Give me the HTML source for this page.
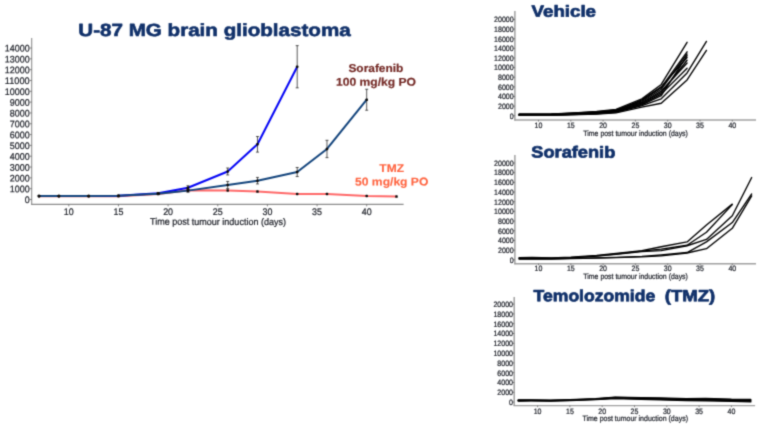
<!DOCTYPE html>
<html><head><meta charset="utf-8"><title>U-87 MG brain glioblastoma</title>
<style>
html,body{margin:0;padding:0;background:#fff;}
body{width:768px;height:424px;overflow:hidden;font-family:"Liberation Sans",sans-serif;}
svg{display:block;}
text{font-family:"Liberation Sans",sans-serif;}
.ax{stroke:#8c8c8c;stroke-width:1.05;fill:none;}
.ay{stroke:#888;stroke-width:1.05;fill:none;}
.ax2{stroke:#a0a0a0;stroke-width:1.4;fill:none;}
.ay2{stroke:#9a9a9a;stroke-width:1.4;fill:none;}
.tk{stroke:#666;stroke-width:0.8;fill:none;}
.lb{fill:#191c24;stroke:#191c24;stroke-width:0.22;}
.ttl{fill:#11316a;font-weight:bold;stroke:#11316a;stroke-linejoin:round;}
.ln{fill:none;stroke:#000;stroke-width:1.35;stroke-linejoin:round;stroke-linecap:round;}
.eb{stroke:#222;stroke-width:0.75;fill:none;}
</style></head><body>
<svg width="768" height="424" viewBox="0 0 768 424">
<defs><filter id="bl" filterUnits="userSpaceOnUse" x="0" y="0" width="768" height="424" color-interpolation-filters="sRGB"><feConvolveMatrix order="3" kernelMatrix="1 4 1 4 16 4 1 4 1" divisor="36" edgeMode="duplicate" preserveAlpha="false"/></filter></defs>
<rect width="768" height="424" fill="#fff"/>
<g filter="url(#bl)">
<g id="main">
<path class="ax" d="M31.1 204.35 H403.6"/>
<path class="ay" d="M31.7 38 V204.85"/>
<path class="tk" d="M31.7 199.5 h-2"/><text class="lb" x="24.64" y="203.1" font-size="9.5" textLength="4.96" lengthAdjust="spacingAndGlyphs" transform="rotate(0.03 24.64 203.1)">0</text>
<path class="tk" d="M31.7 188.68 h-2"/><text class="lb" x="9.76" y="192.28" font-size="9.5" textLength="19.84" lengthAdjust="spacingAndGlyphs" transform="rotate(0.03 9.76 192.28)">1000</text>
<path class="tk" d="M31.7 177.86 h-2"/><text class="lb" x="9.76" y="181.46" font-size="9.5" textLength="19.84" lengthAdjust="spacingAndGlyphs" transform="rotate(0.03 9.76 181.46)">2000</text>
<path class="tk" d="M31.7 167.04 h-2"/><text class="lb" x="9.76" y="170.64" font-size="9.5" textLength="19.84" lengthAdjust="spacingAndGlyphs" transform="rotate(0.03 9.76 170.64)">3000</text>
<path class="tk" d="M31.7 156.22 h-2"/><text class="lb" x="9.76" y="159.82" font-size="9.5" textLength="19.84" lengthAdjust="spacingAndGlyphs" transform="rotate(0.03 9.76 159.82)">4000</text>
<path class="tk" d="M31.7 145.4 h-2"/><text class="lb" x="9.76" y="149" font-size="9.5" textLength="19.84" lengthAdjust="spacingAndGlyphs" transform="rotate(0.03 9.76 149)">5000</text>
<path class="tk" d="M31.7 134.58 h-2"/><text class="lb" x="9.76" y="138.18" font-size="9.5" textLength="19.84" lengthAdjust="spacingAndGlyphs" transform="rotate(0.03 9.76 138.18)">6000</text>
<path class="tk" d="M31.7 123.76 h-2"/><text class="lb" x="9.76" y="127.36" font-size="9.5" textLength="19.84" lengthAdjust="spacingAndGlyphs" transform="rotate(0.03 9.76 127.36)">7000</text>
<path class="tk" d="M31.7 112.94 h-2"/><text class="lb" x="9.76" y="116.54" font-size="9.5" textLength="19.84" lengthAdjust="spacingAndGlyphs" transform="rotate(0.03 9.76 116.54)">8000</text>
<path class="tk" d="M31.7 102.12 h-2"/><text class="lb" x="9.76" y="105.72" font-size="9.5" textLength="19.84" lengthAdjust="spacingAndGlyphs" transform="rotate(0.03 9.76 105.72)">9000</text>
<path class="tk" d="M31.7 91.3 h-2"/><text class="lb" x="4.8" y="94.9" font-size="9.5" textLength="24.8" lengthAdjust="spacingAndGlyphs" transform="rotate(0.03 4.8 94.9)">10000</text>
<path class="tk" d="M31.7 80.48 h-2"/><text class="lb" x="4.8" y="84.08" font-size="9.5" textLength="24.8" lengthAdjust="spacingAndGlyphs" transform="rotate(0.03 4.8 84.08)">11000</text>
<path class="tk" d="M31.7 69.66 h-2"/><text class="lb" x="4.8" y="73.26" font-size="9.5" textLength="24.8" lengthAdjust="spacingAndGlyphs" transform="rotate(0.03 4.8 73.26)">12000</text>
<path class="tk" d="M31.7 58.84 h-2"/><text class="lb" x="4.8" y="62.44" font-size="9.5" textLength="24.8" lengthAdjust="spacingAndGlyphs" transform="rotate(0.03 4.8 62.44)">13000</text>
<path class="tk" d="M31.7 48.02 h-2"/><text class="lb" x="4.8" y="51.62" font-size="9.5" textLength="24.8" lengthAdjust="spacingAndGlyphs" transform="rotate(0.03 4.8 51.62)">14000</text>
<path class="tk" d="M68.8 204.35 v2"/><text class="lb" x="63.85" y="215.1" font-size="9.5" textLength="9.9" lengthAdjust="spacingAndGlyphs" transform="rotate(0.03 63.85 215.1)">10</text>
<path class="tk" d="M118.45 204.35 v2"/><text class="lb" x="113.5" y="215.1" font-size="9.5" textLength="9.9" lengthAdjust="spacingAndGlyphs" transform="rotate(0.03 113.5 215.1)">15</text>
<path class="tk" d="M168.1 204.35 v2"/><text class="lb" x="163.15" y="215.1" font-size="9.5" textLength="9.9" lengthAdjust="spacingAndGlyphs" transform="rotate(0.03 163.15 215.1)">20</text>
<path class="tk" d="M217.75 204.35 v2"/><text class="lb" x="212.8" y="215.1" font-size="9.5" textLength="9.9" lengthAdjust="spacingAndGlyphs" transform="rotate(0.03 212.8 215.1)">25</text>
<path class="tk" d="M267.4 204.35 v2"/><text class="lb" x="262.45" y="215.1" font-size="9.5" textLength="9.9" lengthAdjust="spacingAndGlyphs" transform="rotate(0.03 262.45 215.1)">30</text>
<path class="tk" d="M317.05 204.35 v2"/><text class="lb" x="312.1" y="215.1" font-size="9.5" textLength="9.9" lengthAdjust="spacingAndGlyphs" transform="rotate(0.03 312.1 215.1)">35</text>
<path class="tk" d="M366.7 204.35 v2"/><text class="lb" x="361.75" y="215.1" font-size="9.5" textLength="9.9" lengthAdjust="spacingAndGlyphs" transform="rotate(0.03 361.75 215.1)">40</text>
<text class="lb" x="218" y="224.9" font-size="9.5" text-anchor="middle" textLength="136" lengthAdjust="spacingAndGlyphs" transform="rotate(0.03 218 224.9)">Time post tumour induction (days)</text>
<text class="ttl" x="78.3" y="35.9" font-size="17.6" stroke-width="0.6" textLength="272.4" lengthAdjust="spacingAndGlyphs" transform="rotate(0.03 78.3 35.9)">U-87 MG brain glioblastoma</text>
<polyline points="39.01,196.31 58.87,196.31 88.66,196.31 118.45,196.15 158.17,194.09 187.96,190.19 227.68,190.52 257.47,191.6 297.19,193.98 326.98,193.98 366.7,196.04 396.49,196.58" fill="none" stroke="#ff6868" stroke-width="2.0" stroke-linejoin="round"/>
<polyline points="39.01,195.93 58.87,195.93 88.66,195.93 118.45,195.77 158.17,193.33 187.96,187.71 227.68,171.48 257.47,144.32 297.19,66.74" fill="none" stroke="#0505f5" stroke-width="2.0" stroke-linejoin="round"/>
<polyline points="39.01,195.93 58.87,195.93 88.66,195.93 118.45,195.77 158.17,193.66 187.96,190.63 227.68,185 257.47,180.67 297.19,172.02 326.98,148.97 366.7,99.74" fill="none" stroke="#13447c" stroke-width="2.0" stroke-linejoin="round"/>
<rect x="37.76" y="194.68" width="2.5" height="2.5" rx="0.7" fill="#0a0a0a"/>
<rect x="57.62" y="194.68" width="2.5" height="2.5" rx="0.7" fill="#0a0a0a"/>
<rect x="87.41" y="194.68" width="2.5" height="2.5" rx="0.7" fill="#0a0a0a"/>
<rect x="117.2" y="194.52" width="2.5" height="2.5" rx="0.7" fill="#0a0a0a"/>
<path class="eb" d="M158.17 192.47 V194.2 M156.67 192.47 h3 M156.67 194.2 h3"/><rect x="156.92" y="192.08" width="2.5" height="2.5" rx="0.7" fill="#0a0a0a"/>
<path class="eb" d="M187.96 185.76 V189.65 M186.46 185.76 h3 M186.46 189.65 h3"/><rect x="186.71" y="186.46" width="2.5" height="2.5" rx="0.7" fill="#0a0a0a"/>
<path class="eb" d="M227.68 168.01 V174.94 M226.18 168.01 h3 M226.18 174.94 h3"/><rect x="226.43" y="170.23" width="2.5" height="2.5" rx="0.7" fill="#0a0a0a"/>
<path class="eb" d="M257.47 136.53 V152.11 M255.97 136.53 h3 M255.97 152.11 h3"/><rect x="256.22" y="143.07" width="2.5" height="2.5" rx="0.7" fill="#0a0a0a"/>
<path class="eb" d="M297.19 45.64 V87.84 M295.69 45.64 h3 M295.69 87.84 h3"/><rect x="295.94" y="65.49" width="2.5" height="2.5" rx="0.7" fill="#0a0a0a"/>
<rect x="37.76" y="194.68" width="2.5" height="2.5" rx="0.7" fill="#0a0a0a"/>
<rect x="57.62" y="194.68" width="2.5" height="2.5" rx="0.7" fill="#0a0a0a"/>
<rect x="87.41" y="194.68" width="2.5" height="2.5" rx="0.7" fill="#0a0a0a"/>
<rect x="117.2" y="194.52" width="2.5" height="2.5" rx="0.7" fill="#0a0a0a"/>
<path class="eb" d="M158.17 192.79 V194.52 M156.67 192.79 h3 M156.67 194.52 h3"/><rect x="156.92" y="192.41" width="2.5" height="2.5" rx="0.7" fill="#0a0a0a"/>
<path class="eb" d="M187.96 189 V192.25 M186.46 189 h3 M186.46 192.25 h3"/><rect x="186.71" y="189.38" width="2.5" height="2.5" rx="0.7" fill="#0a0a0a"/>
<path class="eb" d="M227.68 181.43 V188.57 M226.18 181.43 h3 M226.18 188.57 h3"/><rect x="226.43" y="183.75" width="2.5" height="2.5" rx="0.7" fill="#0a0a0a"/>
<path class="eb" d="M257.47 177.43 V183.92 M255.97 177.43 h3 M255.97 183.92 h3"/><rect x="256.22" y="179.42" width="2.5" height="2.5" rx="0.7" fill="#0a0a0a"/>
<path class="eb" d="M297.19 167.47 V176.56 M295.69 167.47 h3 M295.69 176.56 h3"/><rect x="295.94" y="170.77" width="2.5" height="2.5" rx="0.7" fill="#0a0a0a"/>
<path class="eb" d="M326.98 140.31 V157.63 M325.48 140.31 h3 M325.48 157.63 h3"/><rect x="325.73" y="147.72" width="2.5" height="2.5" rx="0.7" fill="#0a0a0a"/>
<path class="eb" d="M366.7 89.24 V110.23 M365.2 89.24 h3 M365.2 110.23 h3"/><rect x="365.45" y="98.49" width="2.5" height="2.5" rx="0.7" fill="#0a0a0a"/>
<rect x="37.76" y="195.06" width="2.5" height="2.5" rx="0.7" fill="#0a0a0a"/>
<rect x="57.62" y="195.06" width="2.5" height="2.5" rx="0.7" fill="#0a0a0a"/>
<rect x="87.41" y="195.06" width="2.5" height="2.5" rx="0.7" fill="#0a0a0a"/>
<rect x="117.2" y="194.9" width="2.5" height="2.5" rx="0.7" fill="#0a0a0a"/>
<rect x="156.92" y="192.84" width="2.5" height="2.5" rx="0.7" fill="#0a0a0a"/>
<rect x="186.71" y="188.94" width="2.5" height="2.5" rx="0.7" fill="#0a0a0a"/>
<rect x="226.43" y="189.27" width="2.5" height="2.5" rx="0.7" fill="#0a0a0a"/>
<rect x="256.22" y="190.35" width="2.5" height="2.5" rx="0.7" fill="#0a0a0a"/>
<rect x="295.94" y="192.73" width="2.5" height="2.5" rx="0.7" fill="#0a0a0a"/>
<rect x="325.73" y="192.73" width="2.5" height="2.5" rx="0.7" fill="#0a0a0a"/>
<rect x="365.45" y="194.79" width="2.5" height="2.5" rx="0.7" fill="#0a0a0a"/>
<rect x="395.24" y="195.33" width="2.5" height="2.5" rx="0.7" fill="#0a0a0a"/>
<g font-weight="bold" font-size="11.3" text-anchor="middle">
<text x="375.9" y="72.0" fill="#742a26" stroke="#742a26" stroke-width="0.2" textLength="55" lengthAdjust="spacingAndGlyphs" transform="rotate(0.03 375.9 72.0)">Sorafenib</text>
<text x="376" y="85.8" fill="#742a26" stroke="#742a26" stroke-width="0.2" textLength="80" lengthAdjust="spacingAndGlyphs" transform="rotate(0.03 376 85.8)">100 mg/kg PO</text>
<text x="391.7" y="171.9" fill="#ff6440" stroke="#ff6440" stroke-width="0.12" textLength="24.7" lengthAdjust="spacingAndGlyphs" transform="rotate(0.03 391.7 171.9)">TMZ</text>
<text x="391.7" y="185.6" fill="#ff6440" stroke="#ff6440" stroke-width="0.12" textLength="73.3" lengthAdjust="spacingAndGlyphs" transform="rotate(0.03 391.7 185.6)">50 mg/kg PO</text>
</g>
</g>
<g>
<path class="ax2" d="M514.3 120 H756"/>
<path class="ay2" d="M514.9 10.9 V120.5"/>
<path class="tk" d="M514.9 115.75 h-1.8"/><text class="lb" x="509.78" y="118.55" font-size="7.8" textLength="3.92" lengthAdjust="spacingAndGlyphs" transform="rotate(0.03 509.78 118.55)">0</text>
<path class="tk" d="M514.9 106.12 h-1.8"/><text class="lb" x="498.02" y="108.92" font-size="7.8" textLength="15.68" lengthAdjust="spacingAndGlyphs" transform="rotate(0.03 498.02 108.92)">2000</text>
<path class="tk" d="M514.9 96.49 h-1.8"/><text class="lb" x="498.02" y="99.29" font-size="7.8" textLength="15.68" lengthAdjust="spacingAndGlyphs" transform="rotate(0.03 498.02 99.29)">4000</text>
<path class="tk" d="M514.9 86.86 h-1.8"/><text class="lb" x="498.02" y="89.66" font-size="7.8" textLength="15.68" lengthAdjust="spacingAndGlyphs" transform="rotate(0.03 498.02 89.66)">6000</text>
<path class="tk" d="M514.9 77.23 h-1.8"/><text class="lb" x="498.02" y="80.03" font-size="7.8" textLength="15.68" lengthAdjust="spacingAndGlyphs" transform="rotate(0.03 498.02 80.03)">8000</text>
<path class="tk" d="M514.9 67.6 h-1.8"/><text class="lb" x="494.1" y="70.4" font-size="7.8" textLength="19.6" lengthAdjust="spacingAndGlyphs" transform="rotate(0.03 494.1 70.4)">10000</text>
<path class="tk" d="M514.9 57.97 h-1.8"/><text class="lb" x="494.1" y="60.77" font-size="7.8" textLength="19.6" lengthAdjust="spacingAndGlyphs" transform="rotate(0.03 494.1 60.77)">12000</text>
<path class="tk" d="M514.9 48.34 h-1.8"/><text class="lb" x="494.1" y="51.14" font-size="7.8" textLength="19.6" lengthAdjust="spacingAndGlyphs" transform="rotate(0.03 494.1 51.14)">14000</text>
<path class="tk" d="M514.9 38.71 h-1.8"/><text class="lb" x="494.1" y="41.51" font-size="7.8" textLength="19.6" lengthAdjust="spacingAndGlyphs" transform="rotate(0.03 494.1 41.51)">16000</text>
<path class="tk" d="M514.9 29.08 h-1.8"/><text class="lb" x="494.1" y="31.88" font-size="7.8" textLength="19.6" lengthAdjust="spacingAndGlyphs" transform="rotate(0.03 494.1 31.88)">18000</text>
<path class="tk" d="M514.9 19.45 h-1.8"/><text class="lb" x="494.1" y="22.25" font-size="7.8" textLength="19.6" lengthAdjust="spacingAndGlyphs" transform="rotate(0.03 494.1 22.25)">20000</text>
<path class="tk" d="M538.5 120 v1.6"/><text class="lb" x="534.6" y="127.5" font-size="7.8" textLength="7.8" lengthAdjust="spacingAndGlyphs" transform="rotate(0.03 534.6 127.5)">10</text>
<path class="tk" d="M570.8 120 v1.6"/><text class="lb" x="566.9" y="127.5" font-size="7.8" textLength="7.8" lengthAdjust="spacingAndGlyphs" transform="rotate(0.03 566.9 127.5)">15</text>
<path class="tk" d="M603.1 120 v1.6"/><text class="lb" x="599.2" y="127.5" font-size="7.8" textLength="7.8" lengthAdjust="spacingAndGlyphs" transform="rotate(0.03 599.2 127.5)">20</text>
<path class="tk" d="M635.4 120 v1.6"/><text class="lb" x="631.5" y="127.5" font-size="7.8" textLength="7.8" lengthAdjust="spacingAndGlyphs" transform="rotate(0.03 631.5 127.5)">25</text>
<path class="tk" d="M667.7 120 v1.6"/><text class="lb" x="663.8" y="127.5" font-size="7.8" textLength="7.8" lengthAdjust="spacingAndGlyphs" transform="rotate(0.03 663.8 127.5)">30</text>
<path class="tk" d="M700 120 v1.6"/><text class="lb" x="696.1" y="127.5" font-size="7.8" textLength="7.8" lengthAdjust="spacingAndGlyphs" transform="rotate(0.03 696.1 127.5)">35</text>
<path class="tk" d="M732.3 120 v1.6"/><text class="lb" x="728.4" y="127.5" font-size="7.8" textLength="7.8" lengthAdjust="spacingAndGlyphs" transform="rotate(0.03 728.4 127.5)">40</text>
<text class="lb" x="583.3" y="135.8" font-size="7.8" textLength="104.6" lengthAdjust="spacingAndGlyphs" transform="rotate(0.03 583.3 135.8)">Time post tumour induction (days)</text>
<text class="ttl" x="531.6" y="16.8" font-size="16.2" stroke-width="0.7" textLength="64.4" lengthAdjust="spacingAndGlyphs" transform="rotate(0.03 531.6 16.8)">Vehicle</text>
<polyline class="ln" points="519.12,114.06 532.04,114.06 551.42,113.92 570.8,113.07 596.64,111.51 616.02,109.49 641.86,98.9 661.24,84.45 687.08,42.32"/>
<polyline class="ln" points="519.12,114.33 532.04,114.33 551.42,114.23 570.8,113.46 596.64,112.08 616.02,110.23 641.86,100.82 661.24,87.34 687.08,51.81"/>
<polyline class="ln" points="519.12,114.2 532.04,114.2 551.42,114.07 570.8,113.27 596.64,111.8 616.02,109.86 641.86,101.79 661.24,89.27 687.08,53.93"/>
<polyline class="ln" points="519.12,114.46 532.04,114.46 551.42,114.39 570.8,113.66 596.64,112.37 616.02,110.6 641.86,99.86 661.24,86.86 687.08,57.54"/>
<polyline class="ln" points="519.12,114.73 532.04,114.73 551.42,114.7 570.8,114.05 596.64,112.93 616.02,111.33 641.86,103.23 661.24,92.64 687.08,60.23"/>
<polyline class="ln" points="519.12,114.6 532.04,114.6 551.42,114.54 570.8,113.86 596.64,112.65 616.02,110.97 641.86,102.75 661.24,91.19 687.08,62.93"/>
<polyline class="ln" points="519.12,114.87 532.04,114.87 551.42,114.85 570.8,114.25 596.64,113.21 616.02,111.71 641.86,104.19 661.24,94.13 687.08,68.27"/>
<polyline class="ln" points="519.12,115.13 532.04,115.13 551.42,115.16 570.8,114.64 596.64,113.78 616.02,112.44 641.86,105.64 661.24,98.8 687.08,72.94 706.46,41.41"/>
<polyline class="ln" points="519.12,115.27 532.04,115.27 551.42,115.32 570.8,114.84 596.64,114.06 616.02,112.81 641.86,107.08 661.24,103.28 687.08,79.93 706.46,50.36"/>
<polyline class="ln" points="519.12,115 532.04,115 551.42,115.01 570.8,114.45 596.64,113.5 616.02,112.08 641.86,104.92 661.24,95.53 687.08,55.56"/>
</g>
<g>
<path class="ax2" d="M514.3 263.7 H756"/>
<path class="ay2" d="M514.9 155 V264.2"/>
<path class="tk" d="M514.9 259.8 h-1.8"/><text class="lb" x="509.78" y="262.6" font-size="7.8" textLength="3.92" lengthAdjust="spacingAndGlyphs" transform="rotate(0.03 509.78 262.6)">0</text>
<path class="tk" d="M514.9 250.12 h-1.8"/><text class="lb" x="498.02" y="252.92" font-size="7.8" textLength="15.68" lengthAdjust="spacingAndGlyphs" transform="rotate(0.03 498.02 252.92)">2000</text>
<path class="tk" d="M514.9 240.44 h-1.8"/><text class="lb" x="498.02" y="243.24" font-size="7.8" textLength="15.68" lengthAdjust="spacingAndGlyphs" transform="rotate(0.03 498.02 243.24)">4000</text>
<path class="tk" d="M514.9 230.76 h-1.8"/><text class="lb" x="498.02" y="233.56" font-size="7.8" textLength="15.68" lengthAdjust="spacingAndGlyphs" transform="rotate(0.03 498.02 233.56)">6000</text>
<path class="tk" d="M514.9 221.08 h-1.8"/><text class="lb" x="498.02" y="223.88" font-size="7.8" textLength="15.68" lengthAdjust="spacingAndGlyphs" transform="rotate(0.03 498.02 223.88)">8000</text>
<path class="tk" d="M514.9 211.4 h-1.8"/><text class="lb" x="494.1" y="214.2" font-size="7.8" textLength="19.6" lengthAdjust="spacingAndGlyphs" transform="rotate(0.03 494.1 214.2)">10000</text>
<path class="tk" d="M514.9 201.72 h-1.8"/><text class="lb" x="494.1" y="204.52" font-size="7.8" textLength="19.6" lengthAdjust="spacingAndGlyphs" transform="rotate(0.03 494.1 204.52)">12000</text>
<path class="tk" d="M514.9 192.04 h-1.8"/><text class="lb" x="494.1" y="194.84" font-size="7.8" textLength="19.6" lengthAdjust="spacingAndGlyphs" transform="rotate(0.03 494.1 194.84)">14000</text>
<path class="tk" d="M514.9 182.36 h-1.8"/><text class="lb" x="494.1" y="185.16" font-size="7.8" textLength="19.6" lengthAdjust="spacingAndGlyphs" transform="rotate(0.03 494.1 185.16)">16000</text>
<path class="tk" d="M514.9 172.68 h-1.8"/><text class="lb" x="494.1" y="175.48" font-size="7.8" textLength="19.6" lengthAdjust="spacingAndGlyphs" transform="rotate(0.03 494.1 175.48)">18000</text>
<path class="tk" d="M514.9 163 h-1.8"/><text class="lb" x="494.1" y="165.8" font-size="7.8" textLength="19.6" lengthAdjust="spacingAndGlyphs" transform="rotate(0.03 494.1 165.8)">20000</text>
<path class="tk" d="M538.5 263.7 v1.6"/><text class="lb" x="534.6" y="271.3" font-size="7.8" textLength="7.8" lengthAdjust="spacingAndGlyphs" transform="rotate(0.03 534.6 271.3)">10</text>
<path class="tk" d="M570.8 263.7 v1.6"/><text class="lb" x="566.9" y="271.3" font-size="7.8" textLength="7.8" lengthAdjust="spacingAndGlyphs" transform="rotate(0.03 566.9 271.3)">15</text>
<path class="tk" d="M603.1 263.7 v1.6"/><text class="lb" x="599.2" y="271.3" font-size="7.8" textLength="7.8" lengthAdjust="spacingAndGlyphs" transform="rotate(0.03 599.2 271.3)">20</text>
<path class="tk" d="M635.4 263.7 v1.6"/><text class="lb" x="631.5" y="271.3" font-size="7.8" textLength="7.8" lengthAdjust="spacingAndGlyphs" transform="rotate(0.03 631.5 271.3)">25</text>
<path class="tk" d="M667.7 263.7 v1.6"/><text class="lb" x="663.8" y="271.3" font-size="7.8" textLength="7.8" lengthAdjust="spacingAndGlyphs" transform="rotate(0.03 663.8 271.3)">30</text>
<path class="tk" d="M700 263.7 v1.6"/><text class="lb" x="696.1" y="271.3" font-size="7.8" textLength="7.8" lengthAdjust="spacingAndGlyphs" transform="rotate(0.03 696.1 271.3)">35</text>
<path class="tk" d="M732.3 263.7 v1.6"/><text class="lb" x="728.4" y="271.3" font-size="7.8" textLength="7.8" lengthAdjust="spacingAndGlyphs" transform="rotate(0.03 728.4 271.3)">40</text>
<text class="lb" x="583.3" y="279.3" font-size="7.8" textLength="104.6" lengthAdjust="spacingAndGlyphs" transform="rotate(0.03 583.3 279.3)">Time post tumour induction (days)</text>
<text class="ttl" x="531.3" y="157.6" font-size="16.2" stroke-width="0.7" textLength="84" lengthAdjust="spacingAndGlyphs" transform="rotate(0.03 531.3 157.6)">Sorafenib</text>
<polyline class="ln" points="519.12,257.62 532.04,257.53 551.42,257.86 570.8,257.28 596.64,255.44 616.02,253.51 641.86,250.6 661.24,246.73 687.08,241.89 706.46,224.95 732.3,204.14"/>
<polyline class="ln" points="519.12,258.11 532.04,257.96 551.42,258.2 570.8,257.62 596.64,255.93 616.02,253.99 641.86,251.09 661.24,249.15 687.08,245.28 706.46,232.21 732.3,204.62"/>
<polyline class="ln" points="519.12,258.35 532.04,258.2 551.42,258.44 570.8,257.86 596.64,256.17 616.02,254.23 641.86,251.57 661.24,250.6 687.08,245.76 706.46,239.47 732.3,215.76 751.68,177.52"/>
<polyline class="ln" points="519.12,258.74 532.04,258.54 551.42,258.74 570.8,258.35 596.64,257.86 616.02,257.38 641.86,256.41 661.24,254.96 687.08,252.54 706.46,241.89 732.3,222.53 751.68,193.98"/>
<polyline class="ln" points="519.12,259.07 532.04,258.83 551.42,259.03 570.8,258.59 596.64,258.11 616.02,257.62 641.86,256.9 661.24,255.93 687.08,253.02 706.46,248.67 732.3,228.34 751.68,195.91"/>
</g>
<g>
<path class="ax2" d="M513.6 405.6 H755.1"/>
<path class="ay2" d="M514.2 297 V406.1"/>
<path class="tk" d="M514.2 402.1 h-1.8"/><text class="lb" x="509.08" y="404.9" font-size="7.8" textLength="3.92" lengthAdjust="spacingAndGlyphs" transform="rotate(0.03 509.08 404.9)">0</text>
<path class="tk" d="M514.2 392.3 h-1.8"/><text class="lb" x="497.32" y="395.1" font-size="7.8" textLength="15.68" lengthAdjust="spacingAndGlyphs" transform="rotate(0.03 497.32 395.1)">2000</text>
<path class="tk" d="M514.2 382.5 h-1.8"/><text class="lb" x="497.32" y="385.3" font-size="7.8" textLength="15.68" lengthAdjust="spacingAndGlyphs" transform="rotate(0.03 497.32 385.3)">4000</text>
<path class="tk" d="M514.2 372.7 h-1.8"/><text class="lb" x="497.32" y="375.5" font-size="7.8" textLength="15.68" lengthAdjust="spacingAndGlyphs" transform="rotate(0.03 497.32 375.5)">6000</text>
<path class="tk" d="M514.2 362.9 h-1.8"/><text class="lb" x="497.32" y="365.7" font-size="7.8" textLength="15.68" lengthAdjust="spacingAndGlyphs" transform="rotate(0.03 497.32 365.7)">8000</text>
<path class="tk" d="M514.2 353.1 h-1.8"/><text class="lb" x="493.4" y="355.9" font-size="7.8" textLength="19.6" lengthAdjust="spacingAndGlyphs" transform="rotate(0.03 493.4 355.9)">10000</text>
<path class="tk" d="M514.2 343.3 h-1.8"/><text class="lb" x="493.4" y="346.1" font-size="7.8" textLength="19.6" lengthAdjust="spacingAndGlyphs" transform="rotate(0.03 493.4 346.1)">12000</text>
<path class="tk" d="M514.2 333.5 h-1.8"/><text class="lb" x="493.4" y="336.3" font-size="7.8" textLength="19.6" lengthAdjust="spacingAndGlyphs" transform="rotate(0.03 493.4 336.3)">14000</text>
<path class="tk" d="M514.2 323.7 h-1.8"/><text class="lb" x="493.4" y="326.5" font-size="7.8" textLength="19.6" lengthAdjust="spacingAndGlyphs" transform="rotate(0.03 493.4 326.5)">16000</text>
<path class="tk" d="M514.2 313.9 h-1.8"/><text class="lb" x="493.4" y="316.7" font-size="7.8" textLength="19.6" lengthAdjust="spacingAndGlyphs" transform="rotate(0.03 493.4 316.7)">18000</text>
<path class="tk" d="M514.2 304.1 h-1.8"/><text class="lb" x="493.4" y="306.9" font-size="7.8" textLength="19.6" lengthAdjust="spacingAndGlyphs" transform="rotate(0.03 493.4 306.9)">20000</text>
<path class="tk" d="M537.6 405.6 v1.6"/><text class="lb" x="533.7" y="414" font-size="7.8" textLength="7.8" lengthAdjust="spacingAndGlyphs" transform="rotate(0.03 533.7 414)">10</text>
<path class="tk" d="M569.9 405.6 v1.6"/><text class="lb" x="566" y="414" font-size="7.8" textLength="7.8" lengthAdjust="spacingAndGlyphs" transform="rotate(0.03 566 414)">15</text>
<path class="tk" d="M602.2 405.6 v1.6"/><text class="lb" x="598.3" y="414" font-size="7.8" textLength="7.8" lengthAdjust="spacingAndGlyphs" transform="rotate(0.03 598.3 414)">20</text>
<path class="tk" d="M634.5 405.6 v1.6"/><text class="lb" x="630.6" y="414" font-size="7.8" textLength="7.8" lengthAdjust="spacingAndGlyphs" transform="rotate(0.03 630.6 414)">25</text>
<path class="tk" d="M666.8 405.6 v1.6"/><text class="lb" x="662.9" y="414" font-size="7.8" textLength="7.8" lengthAdjust="spacingAndGlyphs" transform="rotate(0.03 662.9 414)">30</text>
<path class="tk" d="M699.1 405.6 v1.6"/><text class="lb" x="695.2" y="414" font-size="7.8" textLength="7.8" lengthAdjust="spacingAndGlyphs" transform="rotate(0.03 695.2 414)">35</text>
<path class="tk" d="M731.4 405.6 v1.6"/><text class="lb" x="727.5" y="414" font-size="7.8" textLength="7.8" lengthAdjust="spacingAndGlyphs" transform="rotate(0.03 727.5 414)">40</text>
<text class="lb" x="582.4" y="421.4" font-size="7.8" textLength="105.6" lengthAdjust="spacingAndGlyphs" transform="rotate(0.03 582.4 421.4)">Time post tumour induction (days)</text>
<text class="ttl" x="533.6" y="301.2" font-size="16.2" stroke-width="0.7" textLength="121.6" lengthAdjust="spacingAndGlyphs" transform="rotate(0.03 533.6 301.2)">Temolozomide</text>
<text class="ttl" x="664.8" y="301.2" font-size="16.2" stroke-width="0.7" textLength="50.4" lengthAdjust="spacingAndGlyphs" transform="rotate(0.03 664.8 301.2)">(TMZ)</text>
<polyline class="ln" points="518.22,399.94 531.14,399.9 550.52,400.14 569.9,399.7 595.74,398.72 615.12,397.05 640.96,397.57 660.34,397.91 686.18,398.6 705.56,398.3 731.4,399.16 750.78,399.36"/>
<polyline class="ln" points="518.22,400.21 531.14,400.14 550.52,400.36 569.9,399.92 595.74,398.94 615.12,397.42 640.96,397.98 660.34,398.38 686.18,399.09 705.56,398.92 731.4,399.72 750.78,399.99"/>
<polyline class="ln" points="518.22,400.48 531.14,400.39 550.52,400.58 569.9,400.14 595.74,399.16 615.12,397.79 640.96,398.4 660.34,398.84 686.18,399.58 705.56,399.53 731.4,400.29 750.78,400.63"/>
<polyline class="ln" points="518.22,400.75 531.14,400.63 550.52,400.8 569.9,400.36 595.74,399.38 615.12,398.16 640.96,398.82 660.34,399.31 686.18,400.07 705.56,400.14 731.4,400.85 750.78,401.27"/>
<polyline class="ln" points="518.22,401.02 531.14,400.88 550.52,401.02 569.9,400.58 595.74,399.6 615.12,398.52 640.96,399.23 660.34,399.77 686.18,400.56 705.56,400.75 731.4,401.41 750.78,401.9"/>
</g>
</g>
</svg>
</body></html>
